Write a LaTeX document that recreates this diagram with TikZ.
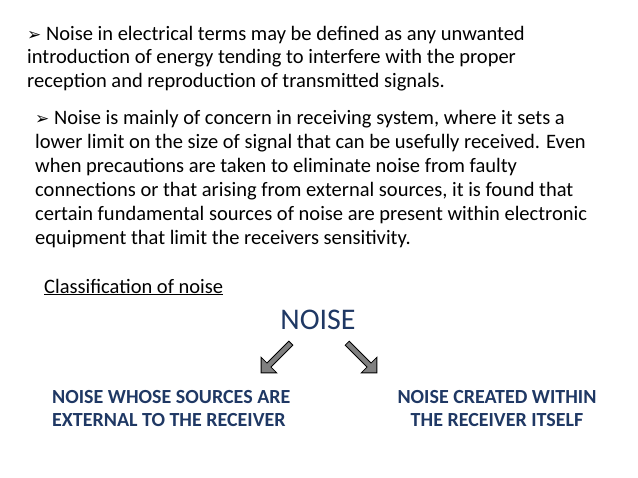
\documentclass[tikz,border=0pt]{standalone}
\usepackage{fontspec}
\setmainfont{Carlito}
\newfontfamily\symf{DejaVu Sans}
\usetikzlibrary{shapes.arrows}
\definecolor{dblue}{RGB}{31,56,100}
\begin{document}
\begin{tikzpicture}[x=1pt,y=-1pt,
  ln/.style={anchor=west,inner sep=0pt,font=\fontsize{20.5}{24}\selectfont},
  bt/.style={inner sep=0pt,font=\fontsize{20}{24}\selectfont\bfseries,text=dblue},
  barrow/.style={single arrow,draw=black,fill=gray,line width=0.8pt,minimum width=22pt,single arrow head extend=4pt,single arrow head indent=0pt,minimum height=42pt,inner sep=1pt}]
\useasboundingbox (0,0) rectangle (638,478);
\newcommand{\bul}{{\symf\fontsize{17}{17}\selectfont ➢}\ }
\node[ln] (l1) at (27,35) {\bul Noise in electrical terms may be defined as any unwanted};
\node[ln] (l2) at (27,58) {introduction of energy tending to interfere with the proper};
\node[ln] (l3) at (27,82) {reception and reproduction of transmitted signals.};
\node[ln] (m1) at (35,119) {\bul Noise is mainly of concern in receiving system, where it sets a};
\node[ln] (m2) at (35,143) {lower limit on the size of signal that can be usefully received. Even};
\node[ln] (m3) at (35,167) {when precautions are taken to eliminate noise from faulty};
\node[ln] (m4) at (35,191) {connections or that arising from external sources, it is found that};
\node[ln] (m5) at (35,215) {certain fundamental sources of noise are present within electronic};
\node[ln] (m6) at (35,239) {equipment that limit the receivers sensitivity.};
\node[ln] (cl) at (44,287) {\underline{Classification of noise}};
\node[inner sep=0pt,font=\fontsize{30}{34}\selectfont,text=dblue] (noise) at (318,320) {NOISE};
\node[barrow,rotate=-135] (a1) at (277,357) {};
\node[barrow,rotate=-45] (a2) at (361,357) {};
\node[bt,anchor=west] (b1) at (52,397) {NOISE WHOSE SOURCES ARE};
\node[bt,anchor=west] (b2) at (52,420) {EXTERNAL TO THE RECEIVER};
\node[bt] (c1) at (497,397) {NOISE CREATED WITHIN};
\node[bt] (c2) at (497,420) {THE RECEIVER ITSELF};
\end{tikzpicture}
\end{document}
